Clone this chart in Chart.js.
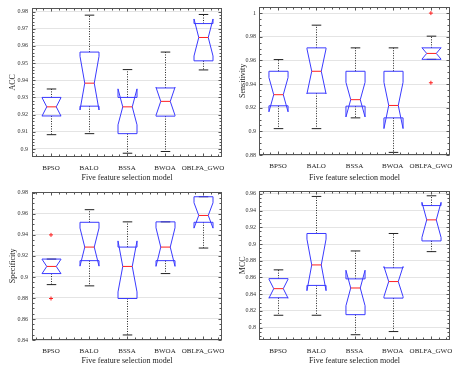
<!DOCTYPE html>
<html>
<head>
<meta charset="utf-8">
<script src="https://cdn.jsdelivr.net/npm/chart.js@4.4.0/dist/chart.umd.min.js"></script>
<style>
body { margin: 0; background: #fff; }
canvas { position: absolute; }
</style>
</head>
<body>
<canvas id="accChart" width="237" height="184" style="left:0;top:0"></canvas>
<canvas id="sensChart" width="237" height="184" style="left:237px;top:0"></canvas>
<canvas id="specChart" width="237" height="183" style="left:0;top:184px"></canvas>
<canvas id="mccChart" width="237" height="183" style="left:237px;top:184px"></canvas>
<script>
const models = ["BPSO", "BALO", "BSSA", "BWOA", "OBLFA_GWO"];
const runs = 10; // runs per model, used for the notch width

// ACC
const accLow  = [0.9083, 0.9089, 0.8975, 0.8985, 0.9460];
const accQ1   = [0.9192, 0.9249, 0.9089, 0.9191, 0.9513];
const accMed  = [0.9245, 0.9383, 0.9245, 0.9277, 0.9649];
const accQ3   = [0.9300, 0.9564, 0.9300, 0.9355, 0.9730];
const accHigh = [0.9349, 0.9779, 0.9462, 0.9564, 0.9783];
const accOutX = [];
const accOutY = [];
const accTicks = [0.9, 0.91, 0.92, 0.93, 0.94, 0.95, 0.96, 0.97, 0.98];

// Sensitivity
const sensLow  = [0.9023, 0.9023, 0.9114, 0.8822, 0.9609];
const sensQ1   = [0.9216, 0.9323, 0.9213, 0.9114, 0.9609];
const sensMed  = [0.9310, 0.9508, 0.9268, 0.9219, 0.9659];
const sensQ3   = [0.9508, 0.9706, 0.9508, 0.9508, 0.9706];
const sensHigh = [0.9607, 0.9898, 0.9706, 0.9706, 0.9805];
const sensOutX = ["OBLFA_GWO", "OBLFA_GWO"];
const sensOutY = [1.0, 0.9411];
const sensTicks = [0.88, 0.9, 0.92, 0.94, 0.96, 0.98, 1];

// Specificity
const specLow  = [0.8927, 0.8915, 0.8448, 0.9032, 0.9275];
const specQ1   = [0.9032, 0.9155, 0.8795, 0.9155, 0.9520];
const specMed  = [0.9100, 0.9284, 0.9100, 0.9284, 0.9585];
const specQ3   = [0.9170, 0.9520, 0.9284, 0.9524, 0.9763];
const specHigh = [0.9170, 0.9640, 0.9524, 0.9524, 0.9763];
const specOutX = ["BPSO", "BPSO"];
const specOutY = [0.94, 0.8795];
const specTicks = [0.84, 0.86, 0.88, 0.9, 0.92, 0.94, 0.96, 0.98];

// MCC
const mccLow  = [0.8148, 0.8148, 0.7915, 0.7953, 0.8909];
const mccQ1   = [0.8357, 0.8505, 0.8155, 0.8353, 0.9037];
const mccMed  = [0.8466, 0.8750, 0.8474, 0.8551, 0.9289];
const mccQ3   = [0.8586, 0.9126, 0.8583, 0.8715, 0.9460];
const mccHigh = [0.8691, 0.9569, 0.8917, 0.9126, 0.9577];
const mccOutX = [];
const mccOutY = [];
const mccTicks = [0.8, 0.82, 0.84, 0.86, 0.88, 0.9, 0.92, 0.94, 0.96];

const serif = "'Liberation Serif', 'Times New Roman', serif";

function notchPlugin(s, minorStep) {
    return {
        id: "notchBox",
        beforeDatasetsDraw(chart) {
            const ctx = chart.ctx;
            const x = chart.scales.x, y = chart.scales.y;
            const step = x.getPixelForValue(1) - x.getPixelForValue(0);
            const hw = step * 0.25;
            ctx.save();
            for (let i = 0; i < models.length; i++) {
                const cx = Math.round(x.getPixelForValue(i)) + 0.5;
                const iqr = s.q3[i] - s.q1[i];
                const nd = 1.57 * iqr / Math.sqrt(runs);
                const pQ1 = y.getPixelForValue(s.q1[i]);
                const pQ3 = y.getPixelForValue(s.q3[i]);
                const pMed = y.getPixelForValue(s.med[i]);
                const pLo = y.getPixelForValue(s.med[i] - nd);
                const pHi = y.getPixelForValue(s.med[i] + nd);
                const pWL = y.getPixelForValue(s.low[i]);
                const pWH = y.getPixelForValue(s.high[i]);

                // whiskers
                ctx.strokeStyle = "#222";
                ctx.lineWidth = 1;
                ctx.setLineDash([1, 1.5]);
                ctx.beginPath();
                ctx.moveTo(cx, pQ3); ctx.lineTo(cx, pWH);
                ctx.moveTo(cx, pQ1); ctx.lineTo(cx, pWL);
                ctx.stroke();
                ctx.setLineDash([]);
                ctx.beginPath();
                ctx.moveTo(cx - hw / 2, pWH); ctx.lineTo(cx + hw / 2, pWH);
                ctx.moveTo(cx - hw / 2, pWL); ctx.lineTo(cx + hw / 2, pWL);
                ctx.stroke();

                // notched box
                ctx.strokeStyle = "#3a3aff";
                ctx.beginPath();
                ctx.moveTo(cx - hw, pQ1);
                ctx.lineTo(cx - hw, pLo);
                ctx.lineTo(cx - hw / 2, pMed);
                ctx.lineTo(cx - hw, pHi);
                ctx.lineTo(cx - hw, pQ3);
                ctx.lineTo(cx + hw, pQ3);
                ctx.lineTo(cx + hw, pHi);
                ctx.lineTo(cx + hw / 2, pMed);
                ctx.lineTo(cx + hw, pLo);
                ctx.lineTo(cx + hw, pQ1);
                ctx.closePath();
                ctx.stroke();

                // median
                ctx.strokeStyle = "#ff2020";
                ctx.beginPath();
                ctx.moveTo(cx - hw / 2, pMed); ctx.lineTo(cx + hw / 2, pMed);
                ctx.stroke();
            }
            ctx.restore();
        },
        afterDraw(chart) {
            const ctx = chart.ctx;
            const a = chart.chartArea;
            const x = chart.scales.x, y = chart.scales.y;
            const L = Math.round(a.left) + 0.5, R = Math.round(a.right) - 0.5;
            const T = Math.round(a.top) + 0.5, B = Math.round(a.bottom) - 0.5;
            ctx.save();
            ctx.strokeStyle = "#555";
            ctx.lineWidth = 1;
            ctx.strokeRect(L, T, R - L, B - T);
            ctx.beginPath();
            // y ticks, both sides
            for (let v = y.min; v <= y.max + 1e-9; v += minorStep) {
                const r = Math.round(v / minorStep) * minorStep;
                if (r < y.min || r > y.max) continue;
                const py = Math.round(y.getPixelForValue(r)) + 0.5;
                const major = y.ticks.some(t => Math.abs(t.value - r) < 1e-6);
                const len = major ? 3 : 2;
                ctx.moveTo(L, py); ctx.lineTo(L + len, py);
                ctx.moveTo(R, py); ctx.lineTo(R - len, py);
            }
            // x ticks, top and bottom
            for (let k = -2; k <= (models.length - 1) * 5 + 2; k++) {
                const px = Math.round(x.getPixelForValue(0) + k * (x.getPixelForValue(1) - x.getPixelForValue(0)) / 5) + 0.5;
                if (px <= L || px >= R) continue;
                const len = k % 5 === 0 ? 3 : 2;
                ctx.moveTo(px, B); ctx.lineTo(px, B - len);
                ctx.moveTo(px, T); ctx.lineTo(px, T + len);
            }
            ctx.stroke();
            ctx.restore();
        }
    };
}

function makeChart(id, s, opt) {
    const ctx = document.getElementById(id).getContext("2d");
    return new Chart(ctx, {
        type: "line",
        data: {
            labels: models,
            datasets: [{
                label: "outliers",
                data: s.outX.map((m, i) => ({ x: m, y: s.outY[i] })),
                showLine: false,
                pointStyle: "cross",
                pointRadius: 2,
                borderColor: "#ff2020",
                borderWidth: 1
            }]
        },
        options: {
            responsive: false,
            animation: false,
            layout: { padding: { top: opt.top, right: opt.right, left: 0, bottom: 0 } },
            plugins: { legend: { display: false }, tooltip: { enabled: false } },
            scales: {
                x: {
                    type: "category",
                    offset: true,
                    grid: { display: false, drawTicks: false },
                    border: { display: false },
                    ticks: { font: { family: serif, size: 7 }, color: "#222", padding: 7, maxRotation: 0, autoSkip: false },
                    title: { display: true, text: "Five feature selection model", font: { family: serif, size: 8 }, color: "#222", padding: { top: 0, bottom: 1 } },
                    afterFit(scale) { scale.height = opt.xh; }
                },
                y: {
                    min: opt.min,
                    max: opt.max,
                    grid: { color: "#e4e4e4", drawTicks: false },
                    border: { display: false },
                    afterBuildTicks(scale) { scale.ticks = opt.ticks.map(v => ({ value: v })); },
                    ticks: { font: { family: serif, size: 6 }, color: "#333", padding: opt.tp, callback: v => String(v) },
                    title: { display: true, text: opt.title, font: { family: serif, size: 8 }, color: "#222", padding: { top: opt.tt, bottom: 0 } },
                    afterFit(scale) { scale.width = opt.yw; }
                }
            }
        },
        plugins: [notchPlugin(s, opt.minor)]
    });
}

makeChart("accChart",
    { low: accLow, q1: accQ1, med: accMed, q3: accQ3, high: accHigh, outX: accOutX, outY: accOutY },
    { min: 0.8953, max: 0.9823, ticks: accTicks, title: "ACC", minor: 0.002, top: 3, right: 15, yw: 32, xh: 27, tp: 4, tt: 8 });

makeChart("sensChart",
    { low: sensLow, q1: sensQ1, med: sensMed, q3: sensQ3, high: sensHigh, outX: sensOutX, outY: sensOutY },
    { min: 0.88, max: 1.0055, ticks: sensTicks, title: "Sensitivity", minor: 0.005, top: 3, right: 24, yw: 22, xh: 29, tp: 3, tt: 1 });

makeChart("specChart",
    { low: specLow, q1: specQ1, med: specMed, q3: specQ3, high: specHigh, outX: specOutX, outY: specOutY },
    { min: 0.84, max: 0.9812, ticks: specTicks, title: "Specificity", minor: 0.005, top: 3, right: 15, yw: 32, xh: 27, tp: 4, tt: 8 });

makeChart("mccChart",
    { low: mccLow, q1: mccQ1, med: mccMed, q3: mccQ3, high: mccHigh, outX: mccOutX, outY: mccOutY },
    { min: 0.7852, max: 0.9639, ticks: mccTicks, title: "MCC", minor: 0.005, top: 3, right: 24, yw: 22, xh: 27, tp: 3, tt: 1 });
</script>
</body>
</html>
